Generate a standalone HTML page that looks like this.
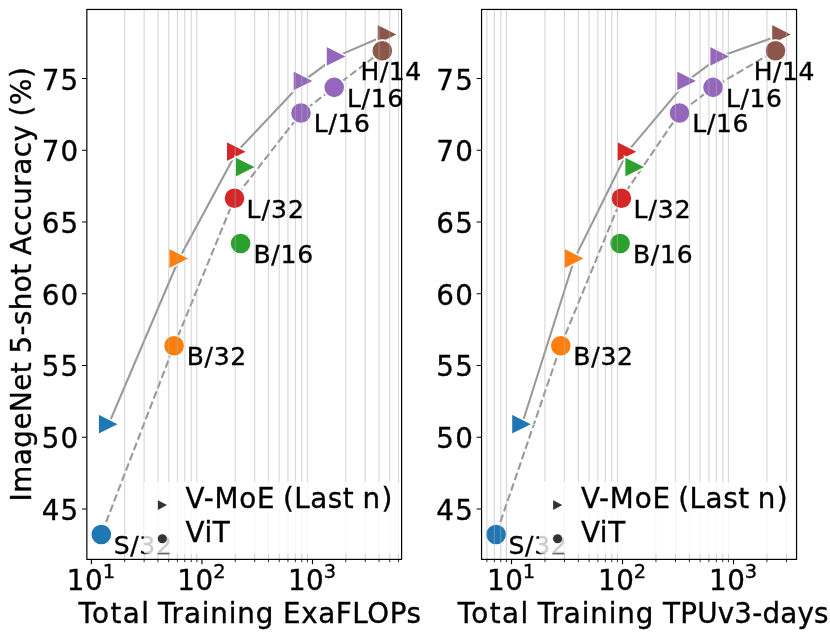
<!DOCTYPE html>
<html lang="en"><head><meta charset="utf-8"><title>V-MoE vs ViT: ImageNet 5-shot Accuracy</title>
<style>html,body{margin:0;padding:0;background:#fff}body{width:830px;height:638px;overflow:hidden}svg{display:block}</style>
</head><body>
<svg width="830" height="638" viewBox="0 0 830 638" font-family='"DejaVu Sans", "Liberation Sans", sans-serif' fill="#000">
<rect width="830" height="638" fill="#fff"/>
<g>
<polyline points="108.7,424.2 179.2,258.5 236.8,151.7 303.5,80.95 336.6,56.4 387.5,34.45" fill="none" stroke="#999" stroke-width="2.08" stroke-linejoin="round"/>
<polyline points="101.3,534.5 174.1,345.7 234.5,198.3 301,113 334.2,87.4 382.3,50.7" fill="none" stroke="#999" stroke-width="2.08" stroke-dasharray="7.7 3.33" stroke-dashoffset="-2.3" stroke-linejoin="round"/>
<path d="M98.05 413.55L119.35 424.2L98.05 434.85Z" fill="#1f77b4" stroke="#fff" stroke-width="1.7" stroke-linejoin="miter" stroke-miterlimit="10"/>
<path d="M168.55 247.85L189.85 258.5L168.55 269.15Z" fill="#ff7f0e" stroke="#fff" stroke-width="1.7" stroke-linejoin="miter" stroke-miterlimit="10"/>
<path d="M226.15 141.05L247.45 151.7L226.15 162.35Z" fill="#d62728" stroke="#fff" stroke-width="1.7" stroke-linejoin="miter" stroke-miterlimit="10"/>
<path d="M235.15 156.45L256.45 167.1L235.15 177.75Z" fill="#2ca02c" stroke="#fff" stroke-width="1.7" stroke-linejoin="miter" stroke-miterlimit="10"/>
<path d="M292.85 70.3L314.15 80.95L292.85 91.6Z" fill="#9467bd" stroke="#fff" stroke-width="1.7" stroke-linejoin="miter" stroke-miterlimit="10"/>
<path d="M325.95 45.75L347.25 56.4L325.95 67.05Z" fill="#9467bd" stroke="#fff" stroke-width="1.7" stroke-linejoin="miter" stroke-miterlimit="10"/>
<path d="M376.85 23.8L398.15 34.45L376.85 45.1Z" fill="#8c564b" stroke="#fff" stroke-width="1.7" stroke-linejoin="miter" stroke-miterlimit="10"/>
<circle cx="101.3" cy="534.5" r="10.65" fill="#1f77b4" stroke="#fff" stroke-width="1.7"/>
<circle cx="174.1" cy="345.7" r="10.65" fill="#ff7f0e" stroke="#fff" stroke-width="1.7"/>
<circle cx="234.5" cy="198.3" r="10.65" fill="#d62728" stroke="#fff" stroke-width="1.7"/>
<circle cx="240.6" cy="243.55" r="10.65" fill="#2ca02c" stroke="#fff" stroke-width="1.7"/>
<circle cx="301" cy="113" r="10.65" fill="#9467bd" stroke="#fff" stroke-width="1.7"/>
<circle cx="334.2" cy="87.4" r="10.65" fill="#9467bd" stroke="#fff" stroke-width="1.7"/>
<circle cx="382.3" cy="50.7" r="10.65" fill="#8c564b" stroke="#fff" stroke-width="1.7"/>
<path d="M124.67 9.45V559.4M144.14 9.45V559.4M157.95 9.45V559.4M168.66 9.45V559.4M177.41 9.45V559.4M184.82 9.45V559.4M191.23 9.45V559.4M196.88 9.45V559.4M235.22 9.45V559.4M254.69 9.45V559.4M268.5 9.45V559.4M279.21 9.45V559.4M287.96 9.45V559.4M295.37 9.45V559.4M301.78 9.45V559.4M307.43 9.45V559.4M345.77 9.45V559.4M365.24 9.45V559.4M379.05 9.45V559.4M389.76 9.45V559.4M398.51 9.45V559.4" stroke="#b0b0b0" stroke-opacity=".5" stroke-width="1.11" fill="none"/>
<path d="M124.67 559.4v2.78M144.14 559.4v2.78M157.95 559.4v2.78M168.66 559.4v2.78M177.41 559.4v2.78M184.82 559.4v2.78M191.23 559.4v2.78M196.88 559.4v2.78M235.22 559.4v2.78M254.69 559.4v2.78M268.5 559.4v2.78M279.21 559.4v2.78M287.96 559.4v2.78M295.37 559.4v2.78M301.78 559.4v2.78M307.43 559.4v2.78M345.77 559.4v2.78M365.24 559.4v2.78M379.05 559.4v2.78M389.76 559.4v2.78M398.51 559.4v2.78" stroke="#000" stroke-width=".83" fill="none"/>
<path d="M91.39 559.4v4.86M201.94 559.4v4.86M312.49 559.4v4.86M86.85 509h-4.86M86.85 437.25h-4.86M86.85 365.5h-4.86M86.85 293.75h-4.86M86.85 222h-4.86M86.85 150.25h-4.86M86.85 78.5h-4.86" stroke="#000" stroke-width="1.11" fill="none"/>
<rect x="86.85" y="9.45" width="314.75" height="549.9499999999999" fill="none" stroke="#000" stroke-width="1.2"/>
<g font-size="27.78" stroke="#000" stroke-width=".35">
<text x="41.65" y="520" textLength="36.6">45</text>
<text x="41.65" y="448" textLength="36.6">50</text>
<text x="41.65" y="376" textLength="36.6">55</text>
<text x="41.65" y="305" textLength="36.6">60</text>
<text x="41.65" y="233" textLength="36.6">65</text>
<text x="41.65" y="161" textLength="36.6">70</text>
<text x="41.65" y="90" textLength="36.6">75</text>
<text y="590"><tspan x="66.79" textLength="35.9">10</tspan><tspan x="102.69" y="578" font-size="19.44">1</tspan></text>
<text y="590"><tspan x="177.34" textLength="35.9">10</tspan><tspan x="213.24" y="578" font-size="19.44">2</tspan></text>
<text y="590"><tspan x="287.89" textLength="35.9">10</tspan><tspan x="323.79" y="578" font-size="19.44">3</tspan></text>
<text y="623"><tspan x="78.38" textLength="70.52">Total</tspan> <tspan x="157.88" textLength="115.54">Training</tspan> <tspan x="283.07" textLength="137.98">ExaFLOPs</tspan></text>
</g>
<g font-size="25.0" stroke="#000" stroke-width=".35">
<text x="113.75" y="553.95" textLength="58.05">S/32</text>
<text x="186.65" y="365.15" textLength="59.61">B/32</text>
<text x="246.55" y="217.75" textLength="57.26">L/32</text>
<text x="253.45" y="263" textLength="59.63">B/16</text>
<text x="313.85" y="132.45" textLength="56.03">L/16</text>
<text x="347.05" y="106.85" textLength="56.03">L/16</text>
<text x="360.55" y="80" textLength="60.66">H/14</text>
</g>
<rect x="143.7" y="481.8" width="256" height="71.6" rx="2" fill="#fff" fill-opacity=".8"/>
<path d="M157.85 500.2L167.05 505.05L157.85 509.9Z" fill="#333"/>
<circle cx="162.3" cy="538.7" r="4.55" fill="#333"/>
<g font-size="27.78" stroke="#000" stroke-width=".35"><text y="508"><tspan x="185.58" textLength="89.09">V-MoE</tspan> <tspan x="282.91" textLength="70.85">(Last</tspan> <tspan x="362.38" textLength="29.91">n)</tspan></text><text y="542"><tspan x="185.58" textLength="44.24">ViT</tspan></text></g>
</g>
<g>
<polyline points="522,424.2 574.6,258.5 627.5,151.7 687.1,80.95 720.2,56.4 782,34.45" fill="none" stroke="#999" stroke-width="2.08" stroke-linejoin="round"/>
<polyline points="496.1,534.5 560.8,345.7 621.4,198.3 679.5,113 713.05,87.4 775.5,50.7" fill="none" stroke="#999" stroke-width="2.08" stroke-dasharray="7.7 3.33" stroke-dashoffset="-2.3" stroke-linejoin="round"/>
<path d="M511.35 413.55L532.65 424.2L511.35 434.85Z" fill="#1f77b4" stroke="#fff" stroke-width="1.7" stroke-linejoin="miter" stroke-miterlimit="10"/>
<path d="M563.95 247.85L585.25 258.5L563.95 269.15Z" fill="#ff7f0e" stroke="#fff" stroke-width="1.7" stroke-linejoin="miter" stroke-miterlimit="10"/>
<path d="M616.85 141.05L638.15 151.7L616.85 162.35Z" fill="#d62728" stroke="#fff" stroke-width="1.7" stroke-linejoin="miter" stroke-miterlimit="10"/>
<path d="M624.55 156.45L645.85 167.1L624.55 177.75Z" fill="#2ca02c" stroke="#fff" stroke-width="1.7" stroke-linejoin="miter" stroke-miterlimit="10"/>
<path d="M676.45 70.3L697.75 80.95L676.45 91.6Z" fill="#9467bd" stroke="#fff" stroke-width="1.7" stroke-linejoin="miter" stroke-miterlimit="10"/>
<path d="M709.55 45.75L730.85 56.4L709.55 67.05Z" fill="#9467bd" stroke="#fff" stroke-width="1.7" stroke-linejoin="miter" stroke-miterlimit="10"/>
<path d="M771.35 23.8L792.65 34.45L771.35 45.1Z" fill="#8c564b" stroke="#fff" stroke-width="1.7" stroke-linejoin="miter" stroke-miterlimit="10"/>
<circle cx="496.1" cy="534.5" r="10.65" fill="#1f77b4" stroke="#fff" stroke-width="1.7"/>
<circle cx="560.8" cy="345.7" r="10.65" fill="#ff7f0e" stroke="#fff" stroke-width="1.7"/>
<circle cx="621.4" cy="198.3" r="10.65" fill="#d62728" stroke="#fff" stroke-width="1.7"/>
<circle cx="620.1" cy="243.55" r="10.65" fill="#2ca02c" stroke="#fff" stroke-width="1.7"/>
<circle cx="679.5" cy="113" r="10.65" fill="#9467bd" stroke="#fff" stroke-width="1.7"/>
<circle cx="713.05" cy="87.4" r="10.65" fill="#9467bd" stroke="#fff" stroke-width="1.7"/>
<circle cx="775.5" cy="50.7" r="10.65" fill="#8c564b" stroke="#fff" stroke-width="1.7"/>
<path d="M486.9 9.45V559.4M494.34 9.45V559.4M500.77 9.45V559.4M506.45 9.45V559.4M544.94 9.45V559.4M564.49 9.45V559.4M578.36 9.45V559.4M589.12 9.45V559.4M597.9 9.45V559.4M605.34 9.45V559.4M611.77 9.45V559.4M617.45 9.45V559.4M655.94 9.45V559.4M675.49 9.45V559.4M689.36 9.45V559.4M700.12 9.45V559.4M708.9 9.45V559.4M716.34 9.45V559.4M722.77 9.45V559.4M728.45 9.45V559.4M766.94 9.45V559.4M786.49 9.45V559.4" stroke="#b0b0b0" stroke-opacity=".5" stroke-width="1.11" fill="none"/>
<path d="M486.9 559.4v2.78M494.34 559.4v2.78M500.77 559.4v2.78M506.45 559.4v2.78M544.94 559.4v2.78M564.49 559.4v2.78M578.36 559.4v2.78M589.12 559.4v2.78M597.9 559.4v2.78M605.34 559.4v2.78M611.77 559.4v2.78M617.45 559.4v2.78M655.94 559.4v2.78M675.49 559.4v2.78M689.36 559.4v2.78M700.12 559.4v2.78M708.9 559.4v2.78M716.34 559.4v2.78M722.77 559.4v2.78M728.45 559.4v2.78M766.94 559.4v2.78M786.49 559.4v2.78" stroke="#000" stroke-width=".83" fill="none"/>
<path d="M511.53 559.4v4.86M622.53 559.4v4.86M733.53 559.4v4.86M481.55 509h-4.86M481.55 437.25h-4.86M481.55 365.5h-4.86M481.55 293.75h-4.86M481.55 222h-4.86M481.55 150.25h-4.86M481.55 78.5h-4.86" stroke="#000" stroke-width="1.11" fill="none"/>
<rect x="481.55" y="9.45" width="315" height="549.9499999999999" fill="none" stroke="#000" stroke-width="1.2"/>
<g font-size="27.78" stroke="#000" stroke-width=".35">
<text x="436.35" y="520" textLength="36.6">45</text>
<text x="436.35" y="448" textLength="36.6">50</text>
<text x="436.35" y="376" textLength="36.6">55</text>
<text x="436.35" y="305" textLength="36.6">60</text>
<text x="436.35" y="233" textLength="36.6">65</text>
<text x="436.35" y="161" textLength="36.6">70</text>
<text x="436.35" y="90" textLength="36.6">75</text>
<text y="590"><tspan x="486.93" textLength="35.9">10</tspan><tspan x="522.83" y="578" font-size="19.44">1</tspan></text>
<text y="590"><tspan x="597.93" textLength="35.9">10</tspan><tspan x="633.83" y="578" font-size="19.44">2</tspan></text>
<text y="590"><tspan x="708.93" textLength="35.9">10</tspan><tspan x="744.83" y="578" font-size="19.44">3</tspan></text>
<text y="623"><tspan x="457.63" textLength="70.47">Total</tspan> <tspan x="537.78" textLength="115.64">Training</tspan> <tspan x="663.08" textLength="165.48">TPUv3-days</tspan></text>
</g>
<g font-size="25.0" stroke="#000" stroke-width=".35">
<text x="508.55" y="553.95" textLength="58.05">S/32</text>
<text x="573.35" y="365.15" textLength="59.61">B/32</text>
<text x="633.45" y="217.75" textLength="57.26">L/32</text>
<text x="632.95" y="263" textLength="59.63">B/16</text>
<text x="692.35" y="132.45" textLength="56.03">L/16</text>
<text x="725.9" y="106.85" textLength="56.03">L/16</text>
<text x="753.75" y="80" textLength="60.66">H/14</text>
</g>
<rect x="539" y="481.8" width="255.6" height="71.6" rx="2" fill="#fff" fill-opacity=".8"/>
<path d="M553.15 500.2L562.35 505.05L553.15 509.9Z" fill="#333"/>
<circle cx="557.6" cy="538.7" r="4.55" fill="#333"/>
<g font-size="27.78" stroke="#000" stroke-width=".35"><text y="508"><tspan x="580.88" textLength="89.09">V-MoE</tspan> <tspan x="678.21" textLength="70.85">(Last</tspan> <tspan x="757.68" textLength="29.91">n)</tspan></text><text y="542"><tspan x="580.88" textLength="44.24">ViT</tspan></text></g>
</g>
<text transform="translate(30.6 498.7) rotate(-90)" font-size="27.78" stroke="#000" stroke-width=".35" y="0"><tspan x="-2.73" textLength="139.19">ImageNet</tspan> <tspan x="145.16" textLength="89.61">5-shot</tspan> <tspan x="243.38" textLength="130.34">Accuracy</tspan> <tspan x="382.31" textLength="49.12">(%)</tspan></text>
</svg>
</body></html>
